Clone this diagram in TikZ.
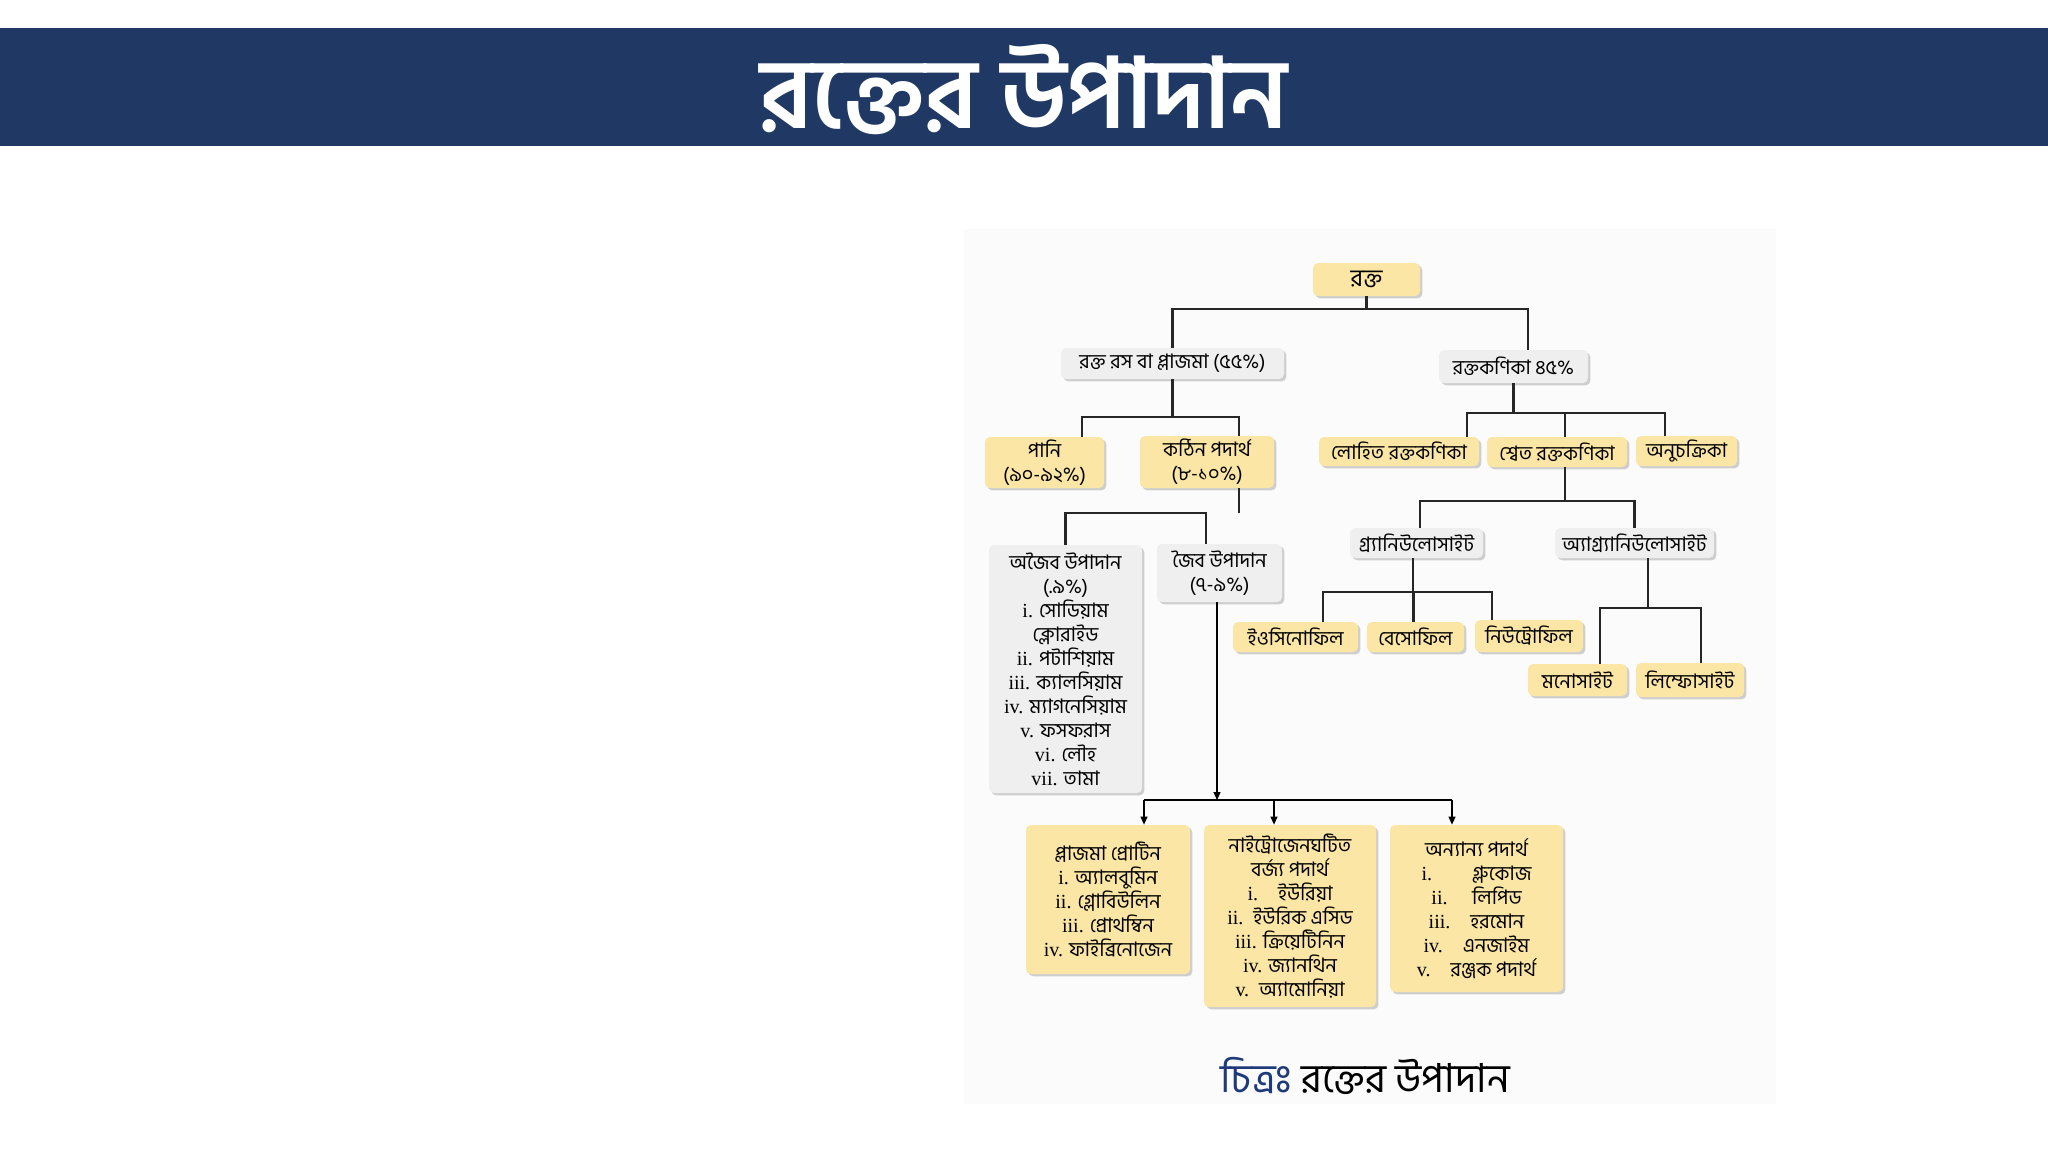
\documentclass[tikz,border=0pt]{standalone}
\usepackage{fontspec}
\newfontfamily\bn[Script=Bengali]{Hind Siliguri}
\newfontfamily\serifnum{Liberation Serif}
\newcommand\romnum[1]{{\serifnum #1}}
\usetikzlibrary{shadows,arrows.meta}
\definecolor{band}{HTML}{1F3864}
\definecolor{boxy}{HTML}{FBE6A5}
\definecolor{boxg}{HTML}{EFEFEF}
\definecolor{capblue}{HTML}{1F3A7A}
\definecolor{diagbg}{HTML}{FBFBFB}
\tikzset{
 base/.style={rounded corners=2.5pt, inner sep=0pt, align=center,
   font=\bn\fontsize{10}{12}\selectfont,
   drop shadow={shadow xshift=1.2pt, shadow yshift=-1.2pt, opacity=0.3, fill=black!60}},
 ybox/.style={base, fill=boxy},
 gbox/.style={base, fill=boxg},
 tree/.style={line width=1.1pt, black!85},
 thinline/.style={line width=0.6pt, black},
 flow/.style={thinline, -{Triangle[length=4pt,width=3.5pt]}},
}
\begin{document}
\begin{tikzpicture}[x=0.5pt,y=-0.5pt]
\useasboundingbox (0,0) rectangle (2048,1152);
\fill[white] (0,0) rectangle (2048,1152);
\fill[band] (0,28) rectangle (2048,146);
\node[text=white, font=\bn\bfseries\fontsize{49}{55}\selectfont] (title) at (1024,90) {রক্তের উপাদান};
\fill[diagbg] (964,229) rectangle (1776,1104);

% nodes
\node[ybox, minimum width=53.5pt, minimum height=16.5pt, font=\bn\fontsize{12}{14}\selectfont] (blood) at (1366.5,279.5) {রক্ত};
\node[gbox, minimum width=111.5pt, minimum height=15.5pt] (plasma) at (1172.5,363.5) {রক্ত রস বা প্লাজমা (৫৫\%)};
\node[gbox, minimum width=74.5pt, minimum height=16.5pt] (cells) at (1513.5,366.5) {রক্তকণিকা ৪৫\%};
\node[ybox, minimum width=59.5pt, minimum height=25.5pt] (water) at (1044.5,462.5) {পানি\\(৯০-৯২\%)};
\node[ybox, minimum width=67pt, minimum height=26pt] (solid) at (1207,462) {কঠিন পদার্থ\\(৮-১০\%)};
\node[ybox, minimum width=80pt, minimum height=14.5pt] (rbc) at (1399,451.5) {লোহিত রক্তকণিকা};
\node[ybox, minimum width=70pt, minimum height=15pt] (wbc) at (1557,452) {শ্বেত রক্তকণিকা};
\node[ybox, minimum width=50.5pt, minimum height=15pt] (plt) at (1686.5,451) {অনুচক্রিকা};
\node[gbox, minimum width=76.5pt, minimum height=124pt] (inorg) at (1065.5,669) {অজৈব উপাদান\\(.৯\%)\\\romnum{i.} সোডিয়াম\\ক্লোরাইড\\\romnum{ii.} পটাশিয়াম\\\romnum{iii.} ক্যালসিয়াম\\\romnum{iv.} ম্যাগনেসিয়াম\\\romnum{v.} ফসফরাস\\\romnum{vi.} লৌহ\\\romnum{vii.} তামা};
\node[gbox, minimum width=62.5pt, minimum height=29pt] (org) at (1219.5,573) {জৈব উপাদান\\(৭-৯\%)};
\node[gbox, minimum width=66.5pt, minimum height=15pt] (gran) at (1416.5,543) {গ্র্যানিউলোসাইট};
\node[gbox, minimum width=79.5pt, minimum height=15pt] (agran) at (1634.5,543) {অ্যাগ্র্যানিউলোসাইট};
\node[ybox, minimum width=62.5pt, minimum height=15pt] (eos) at (1295.5,637) {ইওসিনোফিল};
\node[ybox, minimum width=48.5pt, minimum height=15pt] (baso) at (1415.5,637) {বেসোফিল};
\node[ybox, minimum width=54pt, minimum height=16pt] (neut) at (1529,636) {নিউট্রোফিল};
\node[ybox, minimum width=49.5pt, minimum height=16pt] (mono) at (1577.5,680) {মনোসাইট};
\node[ybox, minimum width=54pt, minimum height=17pt] (lymph) at (1690,680) {লিম্ফোসাইট};
\node[ybox, minimum width=82pt, minimum height=74.5pt] (pp) at (1108,899.5) {প্লাজমা প্রোটিন\\\romnum{i.} অ্যালবুমিন\\\romnum{ii.} গ্লোবিউলিন\\\romnum{iii.} প্রোথম্বিন\\\romnum{iv.} ফাইব্রিনোজেন};
\node[ybox, minimum width=86pt, minimum height=91pt] (nitro) at (1290,916) {নাইট্রোজেনঘটিত\\বর্জ্য পদার্থ\\\romnum{i.}\quad ইউরিয়া\\\romnum{ii.}\enspace ইউরিক এসিড\\\romnum{iii.} ক্রিয়েটিনিন\\\romnum{iv.} জ্যানথিন\\\romnum{v.}\enspace অ্যামোনিয়া};
\node[ybox, minimum width=86.5pt, minimum height=83.5pt] (others) at (1476.5,908.5) {অন্যান্য পদার্থ\\\romnum{i.}\qquad গ্লুকোজ\\\romnum{ii.}\quad\ লিপিড\\\romnum{iii.}\quad হরমোন\\\romnum{iv.}\quad এনজাইম\\\romnum{v.}\quad রঞ্জক পদার্থ};

\node[font=\bn\fontsize{20}{24}\selectfont] (cap) at (1365,1076) {\textcolor{capblue}{চিত্রঃ} রক্তের উপাদান};

% attach points
\coordinate (cellsT) at ([xshift=7.25pt]cells.north);
\coordinate (waterT) at ([xshift=18.75pt]water.north);
\coordinate (solidT) at ([xshift=16pt]solid.north);
\coordinate (solidB) at ([xshift=16pt]solid.south);
\coordinate (rbcT) at ([xshift=34pt]rbc.north);
\coordinate (wbcT) at ([xshift=4pt]wbc.north);
\coordinate (wbcB) at ([xshift=4pt]wbc.south);
\coordinate (pltT) at ([xshift=-10.75pt]plt.north);
\coordinate (orgT) at ([xshift=-6.75pt]org.north);
\coordinate (orgB) at ([xshift=-1.25pt]org.south);
\coordinate (granT) at ([xshift=1.75pt]gran.north);
\coordinate (granB) at ([xshift=-1.75pt]gran.south);
\coordinate (agranB) at ([xshift=6.75pt]agran.south);
\coordinate (eosT) at ([xshift=13.75pt]eos.north);
\coordinate (basoT) at ([xshift=-1pt]baso.north);
\coordinate (neutT) at ([xshift=-18.5pt]neut.north);
\coordinate (monoT) at ([xshift=11.25pt]mono.north);
\coordinate (lymphT) at ([xshift=5.5pt]lymph.north);
\coordinate (ppT) at ([xshift=18pt]pp.north);
\coordinate (nitroT) at ([xshift=-8pt]nitro.north);
\coordinate (othT) at ([xshift=-12.25pt]others.north);

% tree connectors
\draw[tree] (blood.south) -- (blood.south |- 0,309);
\draw[tree] (plasma.north) |- (cellsT |- 0,309) -- (cellsT);
\draw[tree] (plasma.south) -- (plasma.south |- 0,417);
\draw[tree] (waterT) |- (solidT |- 0,417) -- (solidT);
\draw[tree] (solidB) -- (solidB |- 0,513);
\draw[tree] (inorg.north) |- (orgT |- 0,513) -- (orgT);
\draw[tree] (cells.south) -- (cells.south |- 0,413);
\draw[tree] (rbcT) |- (pltT |- 0,413) -- (pltT);
\draw[tree] (wbcT) -- (wbcT |- 0,413);
\draw[tree] (wbcB) -- (wbcB |- 0,501);
\draw[tree] (granT) |- (agran.north |- 0,501) -- (agran.north);
\draw[tree] (granB) -- (granB |- 0,592);
\draw[tree] (eosT) |- (neutT |- 0,592) -- (neutT);
\draw[tree] (basoT) -- (basoT |- 0,592);
\draw[tree] (agranB) -- (agranB |- 0,608);
\draw[tree] (monoT) |- (lymphT |- 0,608) -- (lymphT);

% flow arrows
\draw[flow] (orgB) -- (orgB |- 0,800);
\draw[thinline] (ppT |- 0,800) -- (othT |- 0,800);
\draw[flow] (ppT |- 0,800) -- (ppT);
\draw[flow] (nitroT |- 0,800) -- (nitroT);
\draw[flow] (othT |- 0,800) -- (othT);
\end{tikzpicture}
\end{document}
